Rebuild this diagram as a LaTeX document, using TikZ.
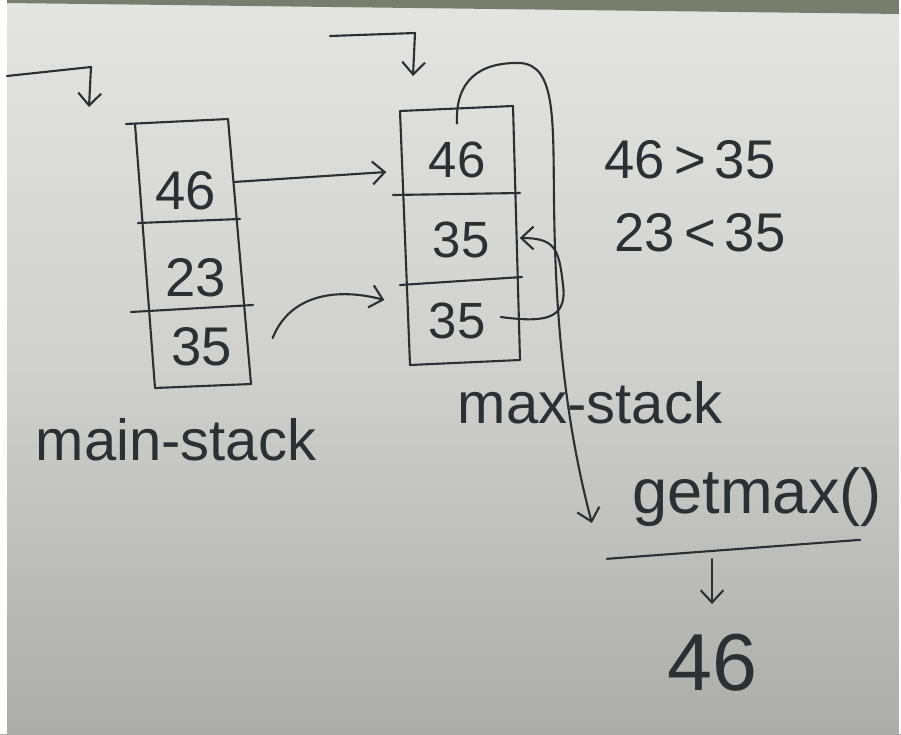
\documentclass[tikz,border=0pt]{standalone}
\usepackage{fontspec}
\setmainfont{Liberation Sans}
\usepackage{tikz}
\usetikzlibrary{arrows.meta, calc}
\definecolor{ink}{RGB}{44,48,50}
\definecolor{papertop}{RGB}{228,228,226}
\definecolor{papermid}{RGB}{208,208,206}
\definecolor{paperbot}{RGB}{172,172,170}
\definecolor{tablecolor}{RGB}{120,126,110}

\begin{document}
\begin{tikzpicture}[x=0.02cm, y=-0.02cm,
        pen/.style={draw=ink, line width=1.2pt, line cap=round, line join=round},
        tip/.style={-{Straight Barb[length=7pt, width=13pt, line width=1.2pt]}},
        num/.style={text=ink, inner sep=0pt, font=\fontsize{31}{34}\selectfont},
        word/.style={text=ink, inner sep=0pt, font=\fontsize{33}{36}\selectfont}]
        % paper
        \useasboundingbox (0,0) rectangle (901,734);
        \shade[top color=papertop, bottom color=paperbot, middle color=papermid] (0,0) rectangle (901,734);
        \fill[tablecolor] (7,0) -- (901,0) -- (901,14) -- (7,3) -- cycle;
        \fill[white] (0,0) rectangle (7,734);
        \fill[white] (899,0) rectangle (901,734);
        
        % Incoming arrows
        \coordinate (inA) at (7,76);
        \coordinate (inB) at (330,36);
        \draw[pen, tip] (inA) -- (91,67) -- (89,107);
        \draw[pen, tip] (inB) -- (415,33) -- (413,76);
        
        % main stack
        \draw[pen] (126,124) -- (228,119) -- (251,384) -- (155,388) -- (135,124);
        \draw[pen] (138,223) -- (240,219);
        \draw[pen] (131,312) -- (253,305);
        \node[num] (m46) at (186,191) {46};
        \node[num] (m23) at (196,278) {23};
        \node[num] (m35) at (202,347) {35};
        
        % max stack
        \draw[pen] (400,111) -- (513,106) -- (520,360) -- (410,365) -- (400,111);
        \draw[pen] (393,195) -- (520,193);
        \draw[pen] (400,285) -- (522,277);
        \node[num, font=\fontsize{29}{32}\selectfont] (x46) at (457,160) {46};
        \node[num, font=\fontsize{29}{32}\selectfont] (x35a) at (461,240) {35};
        \node[num, font=\fontsize{29}{32}\selectfont] (x35b) at (457,321) {35};
        
        % main to max
        \draw[pen, tip] ($(m46.east)+(17,-9)$) -- ($(x46.west)+(-42,12)$);
        \draw[pen, tip] ($(m35.east)+(40,-9)$) .. controls +(18,-45) and +(-45,-12) .. ($(x46.west)+(-44,140)$);
        
        % compare
        \node[num] (cmp1) at (690,160) {46\,>\,35};
        \node[num] (cmp2) at (700,233) {23\,<\,35};
        
        % labels
        \node[word] (mainlbl) at (176,440) {main-stack};
        \node[word] (maxlbl) at (590,403) {max-stack};
        
        % getmax
        \node[word, font=\fontsize{36}{40}\selectfont] (getmax) at (757,497) {getmax()};
        \draw[pen] ($(getmax.south west)+(-25,32)$) -- ($(getmax.south east)+(-22,13)$);
        \node[num, font=\fontsize{46}{50}\selectfont] (res) at (712,663) {46};
        \draw[pen, tip] ($(res.north)+(0,-75)$) -- ($(res.north)+(0,-30)$);
        
        % max stack to getmax
        \draw[pen, tip] ($(x46.north)+(0,-18)$) .. controls (455,80) and (480,62) .. (520,63)
            .. controls (556,65) and (553,120) .. (554,200)
            .. controls (555,300) and (562,410) .. ($(getmax.west)+(-40,26)$);
        \draw[pen, tip] ($(x35b.east)+(15,-4)$) .. controls (540,322) and (568,322) .. (563,285)
            .. controls (559,250) and (556,238) .. ($(x35a.east)+(30,-2)$);
    \end{tikzpicture}
\end{document}
